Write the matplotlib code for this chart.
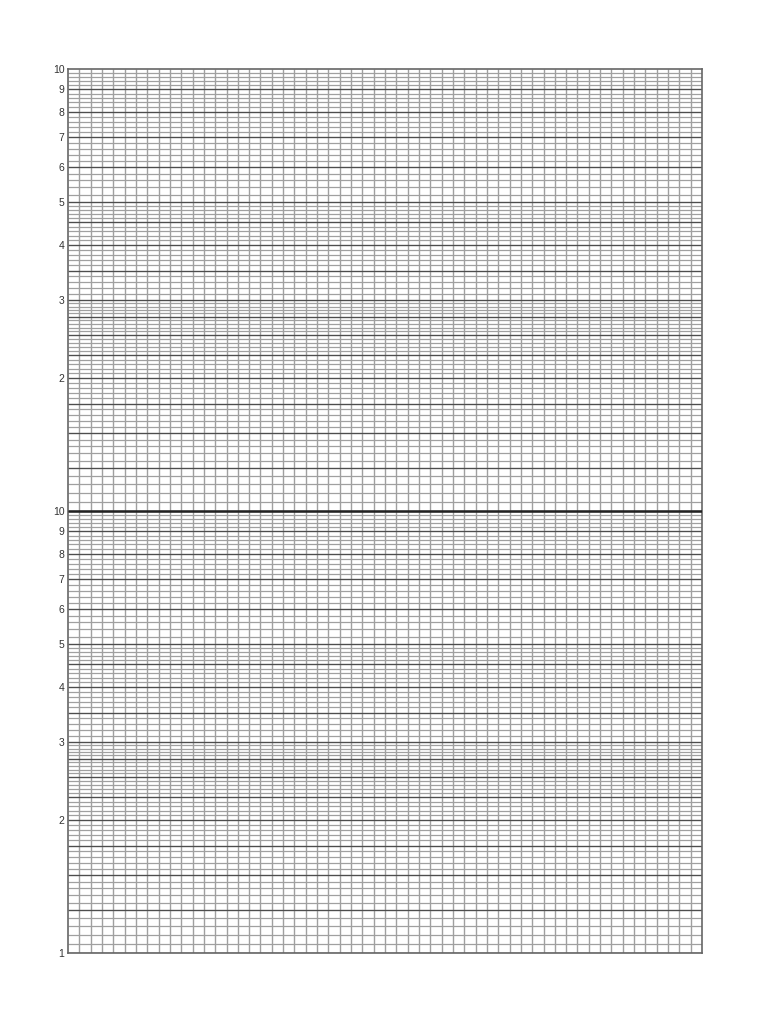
import numpy as np
import matplotlib.pyplot as plt

# semi-log paper: 2 decades on y, 56 linear columns on x
n_columns = 56
decades = [1, 10]

# fine line spacing inside one decade (mantissa ranges)
seg_start = [1.0, 2.0, 3.0, 5.0]
seg_end = [2.0, 3.0, 5.0, 10.0]
seg_step = [0.05, 0.05, 0.1, 0.2]

# heavier lines inside one decade
bold_mantissas = [1, 1.25, 1.5, 1.75, 2, 2.25, 2.5, 2.75, 3, 3.5,
                  4, 4.5, 5, 6, 7, 8, 9]

tick_values = [1, 2, 3, 4, 5, 6, 7, 8, 9, 10,
               20, 30, 40, 50, 60, 70, 80, 90, 100]
tick_labels = ['1', '2', '3', '4', '5', '6', '7', '8', '9', '10',
               '2', '3', '4', '5', '6', '7', '8', '9', '10']

plt.rcParams['font.family'] = ['Liberation Sans', 'DejaVu Sans']

fig = plt.figure(figsize=(7.7, 10.24), dpi=100)
ax = fig.add_axes([68 / 770, 71 / 1024, 634 / 770, 884 / 1024])
ax.set_yscale('log')
ax.set_xlim(0, n_columns)
ax.set_ylim(1, 100)

fine = []
for d in decades:
    for a, b, s in zip(seg_start, seg_end, seg_step):
        m = np.arange(a, b - s / 2, s)
        fine.extend(d * m)
fine = np.array(fine)
bold = np.array([d * m for d in decades for m in bold_mantissas])

ax.hlines(fine, 0, n_columns, color='#a0a0a0', lw=0.9, zorder=1)
ax.vlines(np.arange(1, n_columns), 1, 100, color='#a0a0a0', lw=1.0, zorder=1)
ax.hlines(bold, 0, n_columns, color='#4d4d4d', lw=0.9, zorder=2)
ax.hlines([10], 0, n_columns, color='#222222', lw=1.8, zorder=3)

for sp in ax.spines.values():
    sp.set_color('#666666')
    sp.set_linewidth(1.2)

ax.set_yticks(tick_values)
ax.set_yticklabels(tick_labels)
ax.yaxis.set_minor_locator(plt.NullLocator())
ax.set_xticks([])
ax.tick_params(axis='y', length=0, pad=2.5, labelsize=7.5, labelcolor='#333333')

fig.savefig('out.png', dpi=100, facecolor='white')
